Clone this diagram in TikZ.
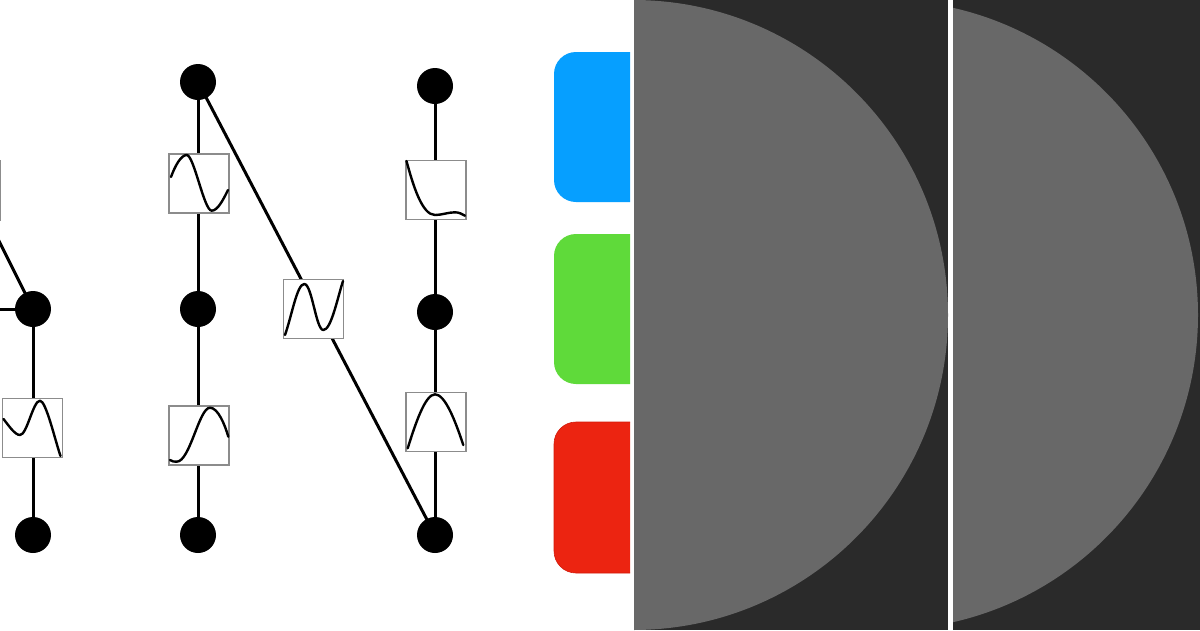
\documentclass[tikz,border=0pt]{standalone}
\begin{document}
\begin{tikzpicture}[x=1pt,y=-1pt,
  edge/.style={line width=3pt,black},
  dot/.style={circle,fill=black,minimum size=36pt,inner sep=0pt},
  fbox/.style={draw=boxgray,fill=white,line width=1.3pt,minimum width=60pt,minimum height=59pt,inner sep=0pt},
  curve/.style={line width=2.4pt,black,line cap=round,line join=round},
  panel/.style={fill=darkpanel},
  disk/.style={fill=diskgray}]
\definecolor{boxgray}{HTML}{8C8C8C}
\definecolor{darkpanel}{HTML}{2A2A2A}
\definecolor{diskgray}{HTML}{686868}
\definecolor{cblue}{HTML}{069FFF}
\definecolor{cgreen}{HTML}{5FDA3A}
\definecolor{cred}{HTML}{EC2411}
\definecolor{credline}{HTML}{D21A0A}
\useasboundingbox (0,0) rectangle (1200,630);
\clip (0,0) rectangle (1200,630);
\fill[white] (0,0) rectangle (1200,630);
% colored tabs
\begin{scope}
\clip (540,0) rectangle (630,630);
\fill[cblue,rounded corners=22pt] (554,52) rectangle (680,202);
\fill[cgreen,rounded corners=22pt] (554,234) rectangle (680,384);
\filldraw[fill=cred,draw=credline,line width=0.6pt,rounded corners=22pt] (554,422) rectangle (680,573);
\end{scope}
% dark panels
\fill[panel] (634,0) rectangle (948,630);
\begin{scope}
\clip (634,0) rectangle (948,630);
\fill[disk] (633,315) circle (315);
\end{scope}
\fill[panel] (953,0) rectangle (1200,630);
\begin{scope}
\clip (953,0) rectangle (1200,630);
\fill[disk] (883,315) circle (315);
\end{scope}
% graph nodes
\coordinate (offA) at (-60,123);
\coordinate (offH) at (-60,309);
\node[dot] (a1) at (33,309) {};
\node[dot] (a2) at (33,535) {};
\node[dot] (b0) at (198,82) {};
\node[dot] (b1) at (198,309) {};
\node[dot] (b2) at (198,535) {};
\node[dot] (c0) at (435,86) {};
\node[dot] (c1) at (435,312) {};
\node[dot] (c2) at (435,535) {};
% edges
\draw[edge] (offA) -- (a1.center);
\draw[edge] (offH) -- (a1.center);
\draw[edge] (a1.center) -- (a2.center);
\draw[edge] (b0.center) -- (b1.center);
\draw[edge] (b1.center) -- (b2.center);
\draw[edge] (c0.center) -- (c1.center);
\draw[edge] (c1.center) -- (c2.center);
\draw[edge] (b0.center) -- (c2.center);
% function boxes
\node[fbox] (fx) at (-29.3,190.5) {};
\node[fbox] (fa) at (32.5,428) {};
\node[fbox] (fb1) at (199,183.5) {};
\node[fbox] (fb2) at (199,435.5) {};
\node[fbox] (fd) at (313.5,308.8) {};
\node[fbox] (fc1) at (436,189.7) {};
\node[fbox] (fc2) at (436,421.7) {};
% curves
\draw[curve] (3.5,419) .. controls (9,426) and (15,435) .. (20,435) .. controls (27,435) and (33,400.7) .. (40,400.7) .. controls (46,400.7) and (55,440) .. (60.5,456);
\draw[curve] (171,177) .. controls (175,166) and (181,155) .. (186.7,155) .. controls (194,155) and (204,210.7) .. (211.7,210.7) .. controls (218,210.7) and (224,198) .. (228,190);
\draw[curve] (170,460) .. controls (172,461.5) and (174,461.7) .. (176.7,461.7) .. controls (190,461.7) and (199,407.7) .. (210,407.7) .. controls (218,407.7) and (225,425) .. (228.3,436.7);
\draw[curve] (285,335) .. controls (292,315) and (297,284) .. (304.3,284) .. controls (312,284) and (316,330) .. (323.3,330) .. controls (331,330) and (337,300) .. (343,281);
\draw[curve] (406.5,161) .. controls (413,185) and (422,215) .. (435,215) .. controls (442,215) and (448,212.3) .. (455,212.3) .. controls (459,212.3) and (462,214) .. (465,215.7);
\draw[curve] (407.7,448.3) .. controls (415,425) and (425,394.3) .. (435,394.3) .. controls (445,394.3) and (455,420) .. (463.3,445);
\end{tikzpicture}
\end{document}
